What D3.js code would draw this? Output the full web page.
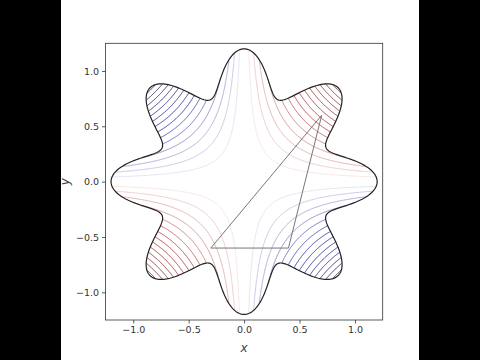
<html>
<head>
<meta charset="utf-8">
<script src="https://d3js.org/d3.v7.min.js"></script>
<style>
  body { margin: 0; background: #000; }
  text { font-family: "DejaVu Sans", sans-serif; }
</style>
</head>
<body>
<div id="chart"></div>
<script>
// contour levels of f(x, y) = x * y
var levels = [-0.70, -0.65, -0.60, -0.55, -0.50, -0.45, -0.40, -0.35, -0.30, -0.25,
              -0.20, -0.15, -0.10, -0.05, 0.05, 0.10, 0.15, 0.20, 0.25, 0.30,
              0.35, 0.40, 0.45, 0.50, 0.55, 0.60, 0.65, 0.70];
// star boundary r(t) = radius + amplitude * cos(lobes * t)
var starLobes = 8;
var starRadius = 1.0;
var starAmplitude = 0.2;
// triangle vertices
var triX = [-0.3, 0.4, 0.7];
var triY = [-0.6, -0.6, 0.6];
// ticks
var xTicks = [-1.0, -0.5, 0.0, 0.5, 1.0];
var yTicks = [-1.0, -0.5, 0.0, 0.5, 1.0];

var W = 480, H = 360;
var svg = d3.select("#chart").append("svg")
  .attr("width", W).attr("height", H);

// video-style frame: black sides, white figure
svg.append("rect").attr("width", W).attr("height", H).attr("fill", "#000");
svg.append("rect").attr("x", 61).attr("width", 358).attr("height", H).attr("fill", "#fff");

var x = d3.scaleLinear().domain([-1.25, 1.25]).range([105.5, 382.7]);
var y = d3.scaleLinear().domain([-1.25, 1.25]).range([320, 43.3]);

// seismic colormap, washed out a bit like the video frame
var seismic = d3.scaleLinear()
  .domain([-0.7, -0.35, 0, 0.35, 0.7])
  .range(["#00004d", "#0000ff", "#ffffff", "#ff0000", "#800000"]);
function color(c) {
  var k = d3.rgb(seismic(c));
  var l = 0.299 * k.r + 0.587 * k.g + 0.114 * k.b;
  var grey = d3.rgb(l, l, l);
  return d3.interpolateRgb(k, grey)(0.45);
}

var line = d3.line().x(function(d) { return x(d[0]); }).y(function(d) { return y(d[1]); });

// boundary points
var star = d3.range(0, 721).map(function(i) {
  var t = i / 720 * 2 * Math.PI;
  var r = starRadius + starAmplitude * Math.cos(starLobes * t);
  return [r * Math.cos(t), r * Math.sin(t)];
});

svg.append("clipPath").attr("id", "star")
  .append("path").attr("d", line.curve(d3.curveLinearClosed)(star));
line.curve(d3.curveLinear);

// contour lines (hyperbola branches), clipped to the star
var g = svg.append("g").attr("clip-path", "url(#star)");
levels.forEach(function(c) {
  var a = Math.abs(c) / 1.3;
  var pts = d3.range(0, 301).map(function(i) { return a * Math.pow(1.3 / a, i / 300); });
  var s = c > 0 ? 1 : -1;
  [1, -1].forEach(function(sx) {
    var branch = pts.map(function(px) { return [sx * px, sx * s * Math.abs(c) / px]; });
    g.append("path")
      .attr("d", line(branch))
      .attr("fill", "none")
      .attr("stroke", color(c))
      .attr("stroke-opacity", 0.85)
      .attr("stroke-width", 0.9);
  });
});

// boundary
svg.append("path")
  .attr("d", line.curve(d3.curveLinearClosed)(star))
  .attr("fill", "none").attr("stroke", "#222").attr("stroke-width", 1.2);
line.curve(d3.curveLinear);

// triangle
var tri = triX.map(function(v, i) { return [v, triY[i]]; });
svg.append("path")
  .attr("d", line.curve(d3.curveLinearClosed)(tri))
  .attr("fill", "none").attr("stroke", "#777").attr("stroke-width", 1);

// axes
var fmt = d3.format(".1f");
var xa = svg.append("g").attr("transform", "translate(0,320)")
  .call(d3.axisBottom(x).tickValues(xTicks).tickFormat(fmt).tickSize(3.5).tickPadding(3));
var ya = svg.append("g").attr("transform", "translate(105.5,0)")
  .call(d3.axisLeft(y).tickValues(yTicks).tickFormat(fmt).tickSize(3.5).tickPadding(3));
[xa, ya].forEach(function(a) {
  a.select(".domain").remove();
  a.selectAll("line").attr("stroke", "#333").attr("stroke-width", 0.8);
  a.selectAll("text").attr("font-size", 9.5).attr("fill", "#333")
    .attr("font-family", "DejaVu Sans");
});

svg.append("rect")
  .attr("x", 105.5).attr("y", 43.3)
  .attr("width", 382.7 - 105.5).attr("height", 320 - 43.3)
  .attr("fill", "none").attr("stroke", "#333").attr("stroke-width", 0.8);

svg.append("text").attr("x", 244).attr("y", 352)
  .attr("text-anchor", "middle").attr("font-size", 12)
  .attr("font-style", "italic").attr("font-family", "Liberation Serif").attr("fill", "#444")
  .text("x");
svg.append("text")
  .attr("transform", "translate(69,181.7) rotate(-90)")
  .attr("text-anchor", "middle").attr("font-size", 12)
  .attr("font-style", "italic").attr("font-family", "Liberation Serif").attr("fill", "#444")
  .text("y");
</script>
</body>
</html>
